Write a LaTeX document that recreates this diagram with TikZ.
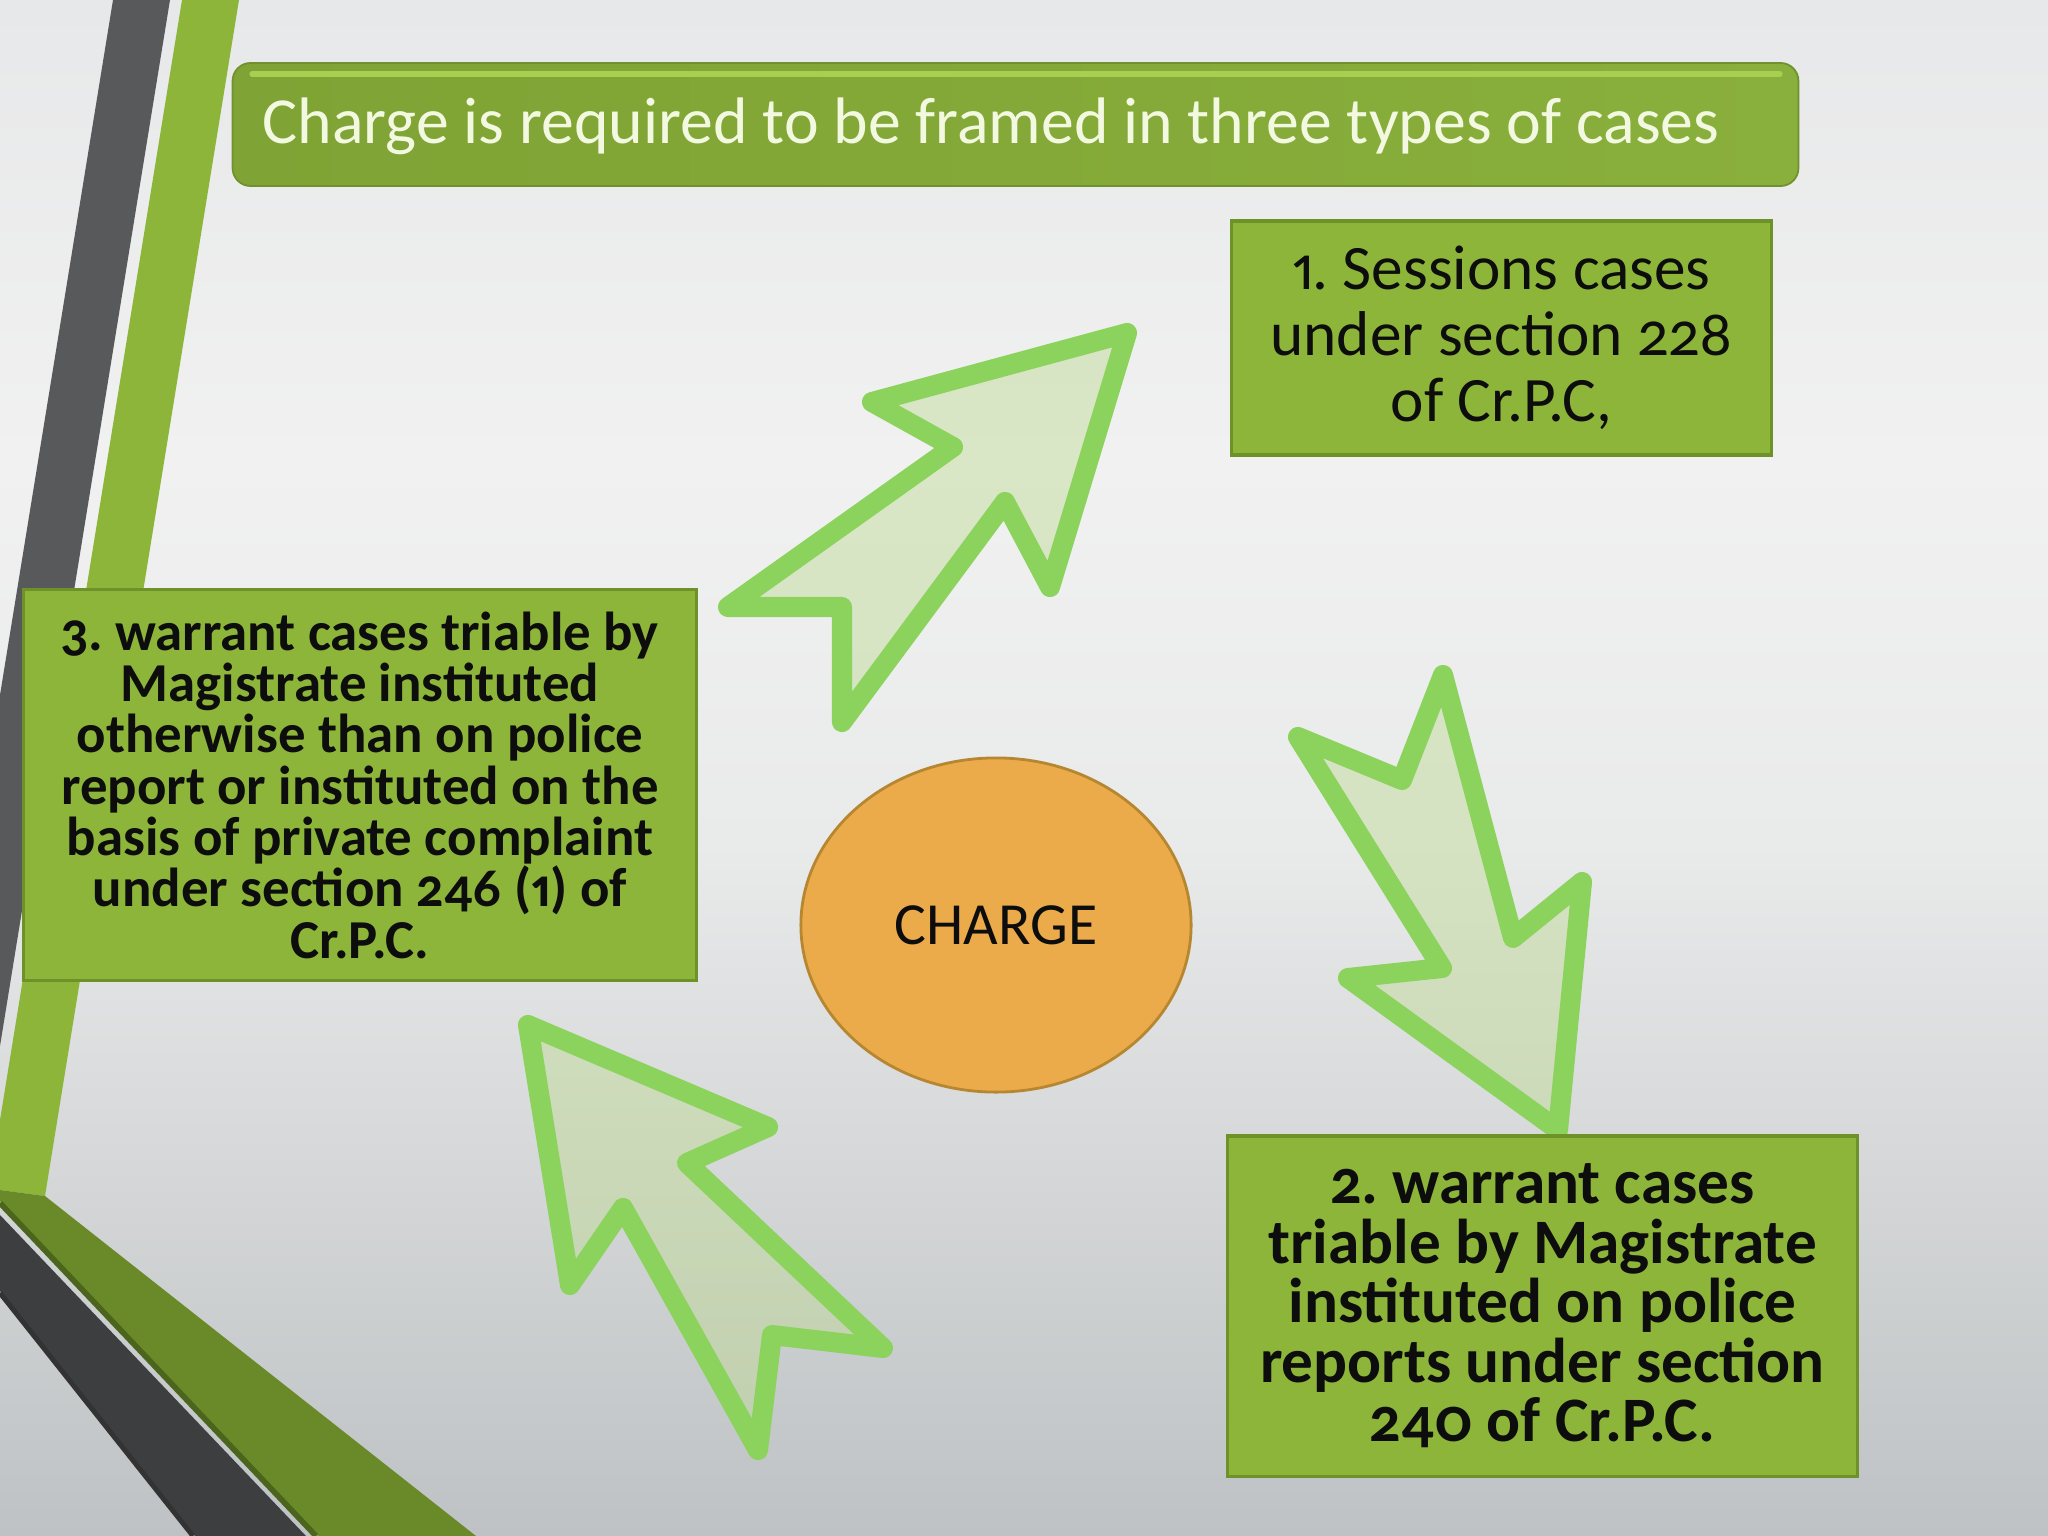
\documentclass[tikz,border=0pt]{standalone}
\usepackage{fontspec}
\setmainfont{Carlito}[Numbers={OldStyle,Proportional}]
\frenchspacing
\usetikzlibrary{shapes.geometric}
\definecolor{bgtop}{HTML}{E7E8E9}
\definecolor{bgmida}{HTML}{F1F1F1}
\definecolor{bgmidb}{HTML}{E9EAEA}
\definecolor{bgmidc}{HTML}{D6D8D9}
\definecolor{bgbot}{HTML}{BEC2C4}
\definecolor{greyband}{HTML}{58595B}
\definecolor{darkband}{HTML}{3C3E40}
\definecolor{limeband}{HTML}{8DB53A}
\definecolor{oliveband}{HTML}{6A8A2A}
\definecolor{olivedark}{HTML}{4B661C}
\definecolor{boxfill}{HTML}{8DB53A}
\definecolor{boxline}{HTML}{6E912A}
\definecolor{barleft}{HTML}{7FA334}
\definecolor{barright}{HTML}{89AF3C}
\definecolor{barhi}{HTML}{A8CF52}
\definecolor{titletxt}{HTML}{F3F8E0}
\definecolor{arrowline}{HTML}{8CD35D}
\definecolor{arrowfill}{HTML}{BEDB92}
\definecolor{ovalfill}{HTML}{EBAB4B}
\definecolor{ovalline}{HTML}{B68730}
\definecolor{inktxt}{HTML}{0D0D0D}
\pgfdeclareverticalshading{slidebg}{100bp}{color(0bp)=(bgbot); color(25bp)=(bgbot);
  color(37.5bp)=(bgmidc); color(47.5bp)=(bgmidb); color(60bp)=(bgmida);
  color(75bp)=(bgtop); color(100bp)=(bgtop)}
\tikzset{
  casebox/.style={draw=boxline, line width=0.9pt, fill=boxfill, align=center,
    text=inktxt, inner sep=0pt},
  bigarrow/.style={draw=arrowline, line width=5.7pt, line join=round,
    fill=arrowfill, fill opacity=0.45, draw opacity=1},
  oval/.style={ellipse, draw=ovalline, line width=0.8pt, fill=ovalfill,
    inner sep=0pt, text=inktxt}
}
\begin{document}
\begin{tikzpicture}[x=0.01cm,y=-0.01cm]
\useasboundingbox (0,0) rectangle (2048,1536);
% background
\shade[shading=slidebg] (0,0) rectangle (2048,1536);
% left decoration
\fill[greyband] (113,0) -- (170,0) -- (0,1046) -- (0,695) -- cycle;
\fill[limeband] (182,0) -- (239,0) -- (45,1196) -- (0,1190) -- (0,1120) -- cycle;
\fill[oliveband] (0,1190) -- (45,1196) -- (476,1536) -- (318,1536) -- (0,1201) -- cycle;
\draw[olivedark, line width=1.6pt] (0,1203) -- (316,1536);
\fill[darkband] (0,1215) -- (306,1536) -- (195,1536) -- (0,1291) -- cycle;
\draw[black!80, line width=1.4pt] (0,1293) -- (193,1536);
% title bar
\node[shade, left color=barleft, right color=barright, rounded corners=0.18cm,
  draw=oliveband!80!barright, line width=0.5pt, minimum width=15.65cm, minimum height=1.23cm,
  inner sep=0pt] (titlebar) at (1015.5,124.5) {};
\draw[barhi, line width=1.5pt, line cap=round] (252,74) -- (1780,74);
\node[anchor=base west, inner sep=0pt, text=titletxt,
  font=\fontsize{18.7}{22}\selectfont] (titletext) at (262,143)
  {Charge is required to be framed in three types of cases};
% arrows
\draw[bigarrow] (1127,333) -- (872,402) -- (953,447) -- (728,607) -- (842,607)
  -- (842,722) -- (1005,502) -- (1050,587) -- cycle;
\draw[bigarrow] (1443,675) -- (1513,938) -- (1582,882) -- (1558,1130)
  -- (1348,978) -- (1442,968) -- (1298,737) -- (1402,780) -- cycle;
\draw[bigarrow] (528,1025) -- (768,1127) -- (687,1163) -- (883,1348)
  -- (772,1335) -- (758,1450) -- (623,1208) -- (570,1285) -- cycle;
% centre
\node[oval, minimum width=3.9cm, minimum height=3.34cm,
  font=\fontsize{17}{20}\selectfont] (charge) at (996,925) {CHARGE};
% boxes
\node[casebox, minimum width=5.39cm, minimum height=2.34cm,
  font=\fontsize{18}{18.8}\selectfont] (sessions) at (1501.5,338)
  {1. Sessions cases\\under section 228\\of Cr.P.C,};
\node[casebox, minimum width=6.29cm, minimum height=3.40cm,
  font=\bfseries\fontsize{18}{16.9}\selectfont] (policewarrant) at (1542.5,1306)
  {2. warrant cases\\triable by Magistrate\\instituted on police\\reports under section\\240 of Cr.P.C.};
\node[casebox, minimum width=6.72cm, minimum height=3.90cm,
  font=\bfseries\fontsize{15.6}{14.6}\selectfont] (privatewarrant) at (360,785)
  {3. warrant cases triable by\\Magistrate instituted\\otherwise than on police\\report or instituted on the\\basis of private complaint\\under section 246 (1) of\\Cr.P.C.};
\end{tikzpicture}
\end{document}
